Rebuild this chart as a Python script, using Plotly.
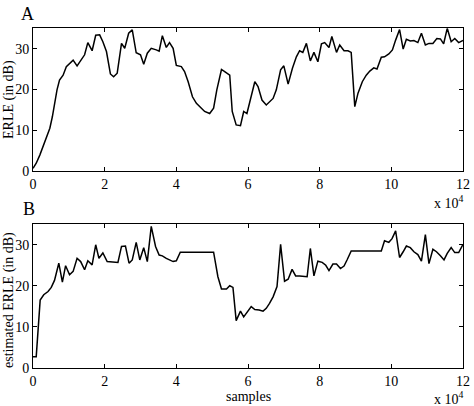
import plotly.graph_objects as go

# x in units of 10^4 samples
x_a = [0, 0.09, 0.19, 0.28, 0.37, 0.47, 0.54, 0.60, 0.67, 0.74, 0.84, 0.93, 1.02, 1.12,
       1.23, 1.35, 1.44, 1.53, 1.65, 1.75, 1.86, 1.95, 2.05, 2.16, 2.25, 2.35, 2.47, 2.56,
       2.67, 2.77, 2.88, 3.0, 3.09, 3.19, 3.3, 3.44, 3.52, 3.61, 3.72, 3.81, 3.91, 4.0,
       4.14, 4.23, 4.33, 4.45, 4.56, 4.7, 4.79, 4.93, 5.04, 5.13, 5.26, 5.35, 5.49, 5.56,
       5.67, 5.79, 5.88, 5.97, 6.07, 6.19, 6.28, 6.39, 6.51, 6.62, 6.7, 6.79, 6.91, 7.0,
       7.12, 7.24, 7.35, 7.44, 7.53, 7.63, 7.74, 7.84, 7.95, 8.05, 8.14, 8.26, 8.34, 8.47,
       8.56, 8.68, 8.79, 8.88, 8.98, 9.07, 9.19, 9.3, 9.4, 9.51, 9.6, 9.72, 9.81, 9.93,
       10.03, 10.12, 10.23, 10.33, 10.42, 10.53, 10.63, 10.74, 10.84, 10.95, 11.05, 11.16,
       11.27, 11.37, 11.46, 11.56, 11.67, 11.77, 11.88, 12.0]
erle = [0.65, 1.9, 3.9, 6.0, 8.4, 10.5, 13.3, 16.6, 19.9, 22.3, 23.5, 25.6, 26.4, 27.2,
        25.8, 27.2, 28.5, 31.5, 29.5, 33.3, 33.4, 31.7, 29.3, 23.8, 23.1, 24.0, 31.3, 30.1,
        33.8, 34.6, 29.0, 28.5, 26.2, 28.9, 30.1, 29.7, 29.4, 33.2, 30.3, 31.5, 30.1, 25.9,
        25.6, 24.4, 21.9, 18.2, 16.6, 15.4, 14.6, 14.1, 15.4, 19.9, 24.9, 24.4, 23.5, 14.6,
        11.3, 11.1, 14.6, 14.1, 17.4, 21.9, 20.7, 17.4, 16.2, 17.0, 17.8, 19.9, 24.8, 25.8,
        21.3, 25.2, 28.0, 29.5, 29.1, 31.3, 27.0, 29.1, 26.8, 31.2, 31.5, 30.3, 33.0, 29.1,
        30.9, 29.5, 29.5, 29.1, 15.8, 19.1, 21.9, 23.5, 24.5, 25.3, 25.0, 27.9, 28.0, 28.7,
        29.7, 32.1, 34.7, 29.9, 32.3, 31.9, 32.0, 31.5, 33.8, 30.9, 31.3, 31.3,
        32.5, 32.4, 31.2, 35.0, 31.7, 32.5, 31.5, 32.0]

x_b = [0, 0.09, 0.2, 0.3, 0.42, 0.51, 0.6, 0.72, 0.82, 0.91, 1.02, 1.12, 1.23, 1.33, 1.44,
       1.53, 1.65, 1.75, 1.84, 1.95, 2.07, 2.19, 2.37, 2.47, 2.58, 2.68, 2.77, 2.88, 2.98,
       3.09, 3.19, 3.3, 3.42, 3.52, 3.61, 3.72, 3.81, 3.91, 4.0, 4.11, 5.04, 5.16, 5.26,
       5.4, 5.49, 5.58, 5.67, 5.79, 5.88, 6.0, 6.09, 6.19, 6.31, 6.42, 6.51, 6.6, 6.7, 6.81,
       6.91, 7.02, 7.12, 7.23, 7.33, 7.44, 7.65, 7.74, 7.84, 7.95, 8.07, 8.17, 8.26, 8.37,
       8.47, 8.58, 8.68, 8.77, 8.88, 9.72, 9.81, 9.93, 10.02, 10.12, 10.23, 10.33, 10.42,
       10.53, 10.63, 10.74, 10.84, 10.95, 11.05, 11.16, 11.26, 11.37, 11.47, 11.56, 11.67,
       11.77, 11.88, 12.0]
est_erle = [2.7, 2.7, 16.5, 17.8, 18.6, 19.6, 21.3, 25.5, 20.9, 24.9, 22.7, 23.5, 26.7,
            25.9, 23.9, 26.1, 25.1, 30.0, 26.7, 28.0, 25.9, 25.8, 25.7, 29.6, 29.7, 25.5,
            26.3, 30.6, 26.3, 29.3, 25.9, 34.5, 29.6, 27.5, 27.3, 26.7, 26.3, 25.9, 26.1,
            28.2, 28.2, 22.2, 19.2, 19.2, 20.0, 19.6, 11.5, 13.8, 12.4, 13.7, 14.9, 14.2,
            14.1, 13.8, 14.5, 15.7, 17.3, 19.8, 30.1, 21.1, 21.6, 24.0, 22.4, 22.4, 22.2,
            29.1, 22.4, 26.0, 25.7, 25.0, 23.7, 25.3, 25.3, 24.2, 24.8, 26.4, 28.5, 28.5,
            31.0, 30.6, 31.5, 33.4, 26.9, 28.3, 29.7, 29.3, 28.3, 27.6, 26.0, 32.5, 25.4,
            28.9, 28.3, 27.3, 26.3, 27.9, 29.3, 28.1, 28.1, 30.1]

x_ticks = [0, 2, 4, 6, 8, 10, 12]
y_ticks = [0, 10, 20, 30]

W, H = 474, 406
FONT = "Liberation Serif"

fig = go.Figure()
fig.add_trace(go.Scatter(x=x_a, y=erle, mode="lines", line=dict(color="black", width=1.5),
                         xaxis="x", yaxis="y", showlegend=False))
fig.add_trace(go.Scatter(x=x_b, y=est_erle, mode="lines", line=dict(color="black", width=1.5),
                         xaxis="x2", yaxis="y2", showlegend=False))

xdom = [33 / W, 463 / W]
axis_style = dict(showline=True, linecolor="black", linewidth=1, mirror="ticks",
                  ticks="inside", ticklen=4, tickcolor="black", showgrid=False,
                  zeroline=False, automargin=False,
                  tickfont=dict(family=FONT, size=14, color="black"))

fig.update_layout(
    width=W, height=H,
    margin=dict(l=0, r=0, t=0, b=0),
    paper_bgcolor="white", plot_bgcolor="white",
    xaxis=dict(domain=xdom, range=[0, 12], tickvals=x_ticks, anchor="y", **axis_style),
    yaxis=dict(domain=[1 - 171 / H, 1 - 28.3 / H], range=[0, 35], tickvals=y_ticks,
               anchor="x", **axis_style),
    xaxis2=dict(domain=xdom, range=[0, 12], tickvals=x_ticks, anchor="y2", **axis_style),
    yaxis2=dict(domain=[1 - 367.7 / H, 1 - 224.3 / H], range=[0, 35], tickvals=y_ticks,
                anchor="x2", **axis_style),
)

f = dict(family=FONT, size=14, color="black")
notes = [
    dict(text="A", x=27 / W, y=1 - 14 / H, font=dict(family=FONT, size=18, color="black")),
    dict(text="B", x=29 / W, y=1 - 209 / H, font=dict(family=FONT, size=18, color="black")),
    dict(text="x 10<sup>4</sup>", x=449 / W, y=1 - 202 / H, font=f),
    dict(text="x 10<sup>4</sup>", x=449 / W, y=1 - 398 / H, font=f),
    dict(text="samples", x=248 / W, y=1 - 396 / H, font=f),
    dict(text="ERLE (in dB)", x=9 / W, y=1 - 100 / H, textangle=-90, font=f),
    dict(text="estimated ERLE (in dB)", x=9 / W, y=1 - 300 / H, textangle=-90, font=f),
]
for n in notes:
    fig.add_annotation(xref="paper", yref="paper", showarrow=False,
                       xanchor="center", yanchor="middle", **n)

fig.write_html("out.html", config={"displayModeBar": False},
               post_script="document.body.style.margin='0';")
